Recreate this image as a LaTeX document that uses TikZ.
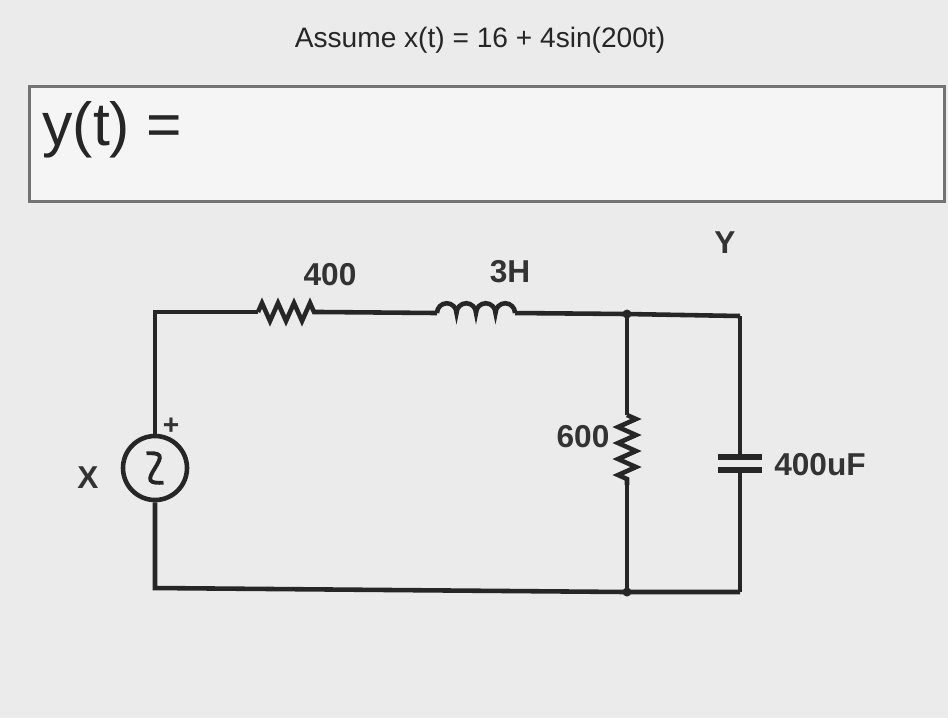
\documentclass[tikz,border=0pt]{standalone}
\usepackage{fontspec}
\setmainfont{Liberation Sans}
\setsansfont{Liberation Sans}
\usetikzlibrary{calc,positioning,decorations.pathmorphing}
\tikzstyle{wire} = [line width=1.3pt, black!85]
\tikzstyle{lbl} = [font=\sffamily\bfseries\small, text=black!80]
\begin{document}
\begin{tikzpicture}[x=1cm,y=-1cm]
        \fill[black!8] (0,0) rectangle (9.48,7.18);
        \useasboundingbox (0,0) rectangle (9.48,7.18);
        \node[font=\sffamily\footnotesize, text=black!85] (title) at (4.8,0.4) {Assume x(t) = 16 + 4sin(200t)};
        \node[rectangle, draw=black!55, line width=1pt, fill=black!4, minimum width=9.15cm, minimum height=1.15cm] (answer) at (4.87,1.44) {};
        \node[font=\sffamily\LARGE, text=black!85, right] (yt) at (0.3,1.3) {y(t) =};

        % corners and junctions
        \coordinate (TL) at (1.55,3.12);
        \coordinate (TM) at (6.27,3.14);
        \coordinate (TR) at (7.4,3.16);
        \coordinate (BL) at (1.55,5.88);
        \coordinate (BM) at (6.27,5.92);
        \coordinate (BR) at (7.4,5.92);
        \node[circle, draw, wire, minimum size=0.64cm, inner sep=0pt] (src) at (1.55,4.68) {};

        % top branch
        \draw[wire] (src.north) -- (TL) -- (2.58,3.12);
        \draw[wire, decorate, decoration={zigzag, amplitude=0.09cm, segment length=0.16cm}] (2.58,3.12) -- (3.22,3.12);
        \draw[wire] (3.22,3.12) -- (4.37,3.13);
        \draw[wire] (4.37,3.13) arc[start angle=180, end angle=360, radius=0.0975]
            arc[start angle=180, end angle=360, radius=0.0975]
            arc[start angle=180, end angle=360, radius=0.0975]
            arc[start angle=180, end angle=360, radius=0.0975];
        \draw[wire] (5.15,3.13) -- (TM) -- (TR);

        % shunt resistor
        \draw[wire] (TM) -- (6.27,4.15);
        \draw[wire, decorate, decoration={zigzag, amplitude=0.09cm, segment length=0.16cm}] (6.27,4.15) -- (6.27,4.85);
        \draw[wire] (6.27,4.85) -- (BM);

        % capacitor
        \draw[wire] (TR) -- (7.4,4.57);
        \draw[wire, line width=1.6pt] (7.18,4.57) -- (7.62,4.57);
        \draw[wire, line width=1.6pt] (7.18,4.7) -- (7.62,4.7);
        \draw[wire] (7.4,4.7) -- (BR);

        % bottom
        \draw[wire] (src.south) -- (BL) -- (BM) -- (BR);
        \fill[black!85] (TM) circle (0.045) (BM) circle (0.045);

        % source symbol
        \draw[wire, line width=1.1pt, rotate around={-60:(src)}] ($(src)+(-0.17,0)$) sin ($(src)+(-0.085,-0.1)$) cos (src) sin ($(src)+(0.085,0.1)$) cos ($(src)+(0.17,0)$);
        \node[lbl, font=\sffamily\bfseries\footnotesize] (plus) at (1.71,4.26) {+};

        % labels
        \node[lbl] (lx) at (0.88,4.78) {X};
        \node[lbl] (lr1) at (3.3,2.75) {400};
        \node[lbl] (ll) at (5.1,2.72) {3H};
        \node[lbl] (lr2) at (5.83,4.37) {600};
        \node[lbl] (lc) at (8.2,4.65) {400uF};
        \node[lbl] (ly) at (7.25,2.43) {Y};
    \end{tikzpicture}
\end{document}
